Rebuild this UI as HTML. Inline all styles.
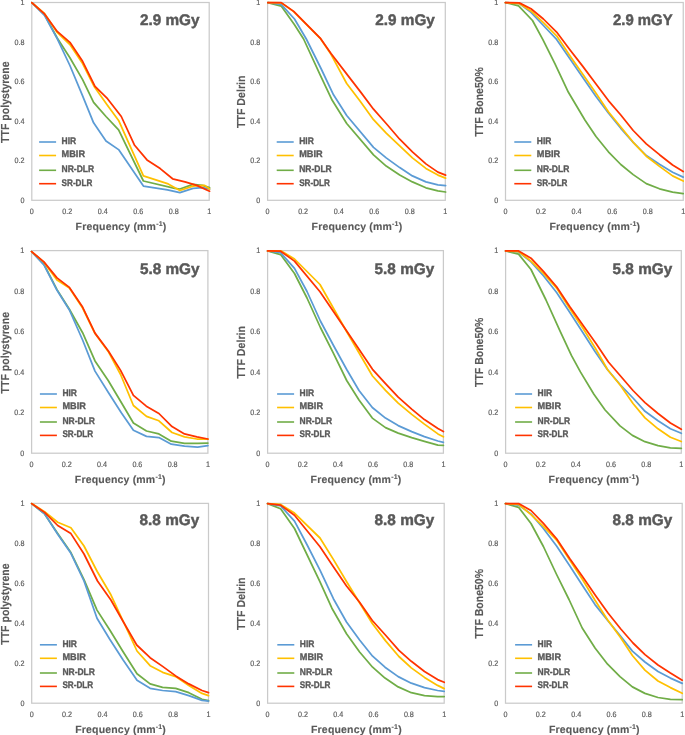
<!DOCTYPE html><html><head><meta charset="utf-8"><style>html,body{margin:0;padding:0;background:#fff;overflow:hidden;}svg{display:block;will-change:transform;}text{font-family:"Liberation Sans",sans-serif;text-rendering:geometricPrecision;}</style></head><body>
<svg width="685" height="735" viewBox="0 0 685 735">
<rect width="685" height="735" fill="#fff"/>
<g><rect x="31.80" y="2.50" width="177.40" height="197.80" fill="none" stroke="#CACACA" stroke-width="1.25"/><text x="24.50" y="203.05" font-size="7.9" fill="#595959" stroke="#595959" stroke-width="0.18" text-anchor="end" textLength="4.0" lengthAdjust="spacingAndGlyphs">0</text><text x="24.50" y="163.49" font-size="7.9" fill="#595959" stroke="#595959" stroke-width="0.18" text-anchor="end" textLength="10.0" lengthAdjust="spacingAndGlyphs">0.2</text><text x="24.50" y="123.93" font-size="7.9" fill="#595959" stroke="#595959" stroke-width="0.18" text-anchor="end" textLength="10.0" lengthAdjust="spacingAndGlyphs">0.4</text><text x="24.50" y="84.37" font-size="7.9" fill="#595959" stroke="#595959" stroke-width="0.18" text-anchor="end" textLength="10.0" lengthAdjust="spacingAndGlyphs">0.6</text><text x="24.50" y="44.81" font-size="7.9" fill="#595959" stroke="#595959" stroke-width="0.18" text-anchor="end" textLength="10.0" lengthAdjust="spacingAndGlyphs">0.8</text><text x="24.50" y="5.25" font-size="7.9" fill="#595959" stroke="#595959" stroke-width="0.18" text-anchor="end" textLength="4.0" lengthAdjust="spacingAndGlyphs">1</text><text x="31.80" y="213.80" font-size="7.9" fill="#595959" stroke="#595959" stroke-width="0.18" text-anchor="middle" textLength="4.0" lengthAdjust="spacingAndGlyphs">0</text><text x="67.28" y="213.80" font-size="7.9" fill="#595959" stroke="#595959" stroke-width="0.18" text-anchor="middle" textLength="10.0" lengthAdjust="spacingAndGlyphs">0.2</text><text x="102.76" y="213.80" font-size="7.9" fill="#595959" stroke="#595959" stroke-width="0.18" text-anchor="middle" textLength="10.0" lengthAdjust="spacingAndGlyphs">0.4</text><text x="138.24" y="213.80" font-size="7.9" fill="#595959" stroke="#595959" stroke-width="0.18" text-anchor="middle" textLength="10.0" lengthAdjust="spacingAndGlyphs">0.6</text><text x="173.72" y="213.80" font-size="7.9" fill="#595959" stroke="#595959" stroke-width="0.18" text-anchor="middle" textLength="10.0" lengthAdjust="spacingAndGlyphs">0.8</text><text x="209.20" y="213.80" font-size="7.9" fill="#595959" stroke="#595959" stroke-width="0.18" text-anchor="middle" textLength="4.0" lengthAdjust="spacingAndGlyphs">1</text><text x="75.60" y="229.80" font-size="10.5" font-weight="bold" fill="#595959" stroke="#595959" stroke-width="0.12" letter-spacing="0.18">Frequency (mm<tspan font-size="7" dy="-4">-1</tspan><tspan dy="4">)</tspan></text><text transform="translate(9.40,102.20) rotate(-90)" x="0" y="0" font-size="11.6" font-weight="bold" fill="#595959" stroke="#595959" stroke-width="0.15" text-anchor="middle" textLength="81.4" lengthAdjust="spacingAndGlyphs">TTF polystyrene</text><text x="139.90" y="24.80" font-size="15.3" font-weight="bold" fill="#595959" stroke="#595959" stroke-width="0.45" textLength="59.6" lengthAdjust="spacingAndGlyphs">2.9 mGy</text><line x1="39.10" y1="142.00" x2="56.10" y2="142.00" stroke="#5B9BD5" stroke-width="1.6"/><text x="61.60" y="143.90" font-size="9.5" font-weight="bold" fill="#595959" stroke="#595959" stroke-width="0.35" textLength="14.6" lengthAdjust="spacingAndGlyphs">HIR</text><line x1="39.10" y1="155.50" x2="56.10" y2="155.50" stroke="#FFC000" stroke-width="1.6"/><text x="61.60" y="157.40" font-size="9.5" font-weight="bold" fill="#595959" stroke="#595959" stroke-width="0.35" textLength="23.4" lengthAdjust="spacingAndGlyphs">MBIR</text><line x1="39.10" y1="170.30" x2="56.10" y2="170.30" stroke="#70AD47" stroke-width="1.6"/><text x="61.60" y="172.20" font-size="9.5" font-weight="bold" fill="#595959" stroke="#595959" stroke-width="0.35" textLength="32.5" lengthAdjust="spacingAndGlyphs">NR-DLR</text><line x1="39.10" y1="183.70" x2="56.10" y2="183.70" stroke="#FF3300" stroke-width="1.6"/><text x="61.60" y="185.60" font-size="9.5" font-weight="bold" fill="#595959" stroke="#595959" stroke-width="0.35" textLength="30.7" lengthAdjust="spacingAndGlyphs">SR-DLR</text><polyline points="31.8,2.6 44.5,14.6 57.2,38.0 69.9,57.7 82.6,79.6 93.6,102.3 106.0,116.5 118.6,129.9 143.4,181.0 174.8,188.3 179.9,189.0 193.0,184.4 202.5,185.4 209.6,187.6" fill="none" stroke="#70AD47" stroke-width="1.75" stroke-linejoin="round" stroke-linecap="round"/><polyline points="31.8,2.6 44.5,15.3 57.2,38.7 69.9,65.5 82.6,95.8 93.6,122.8 106.0,141.0 118.6,149.6 143.4,186.1 167.5,189.8 179.9,192.7 193.0,188.3 202.5,187.6 209.6,189.0" fill="none" stroke="#5B9BD5" stroke-width="1.75" stroke-linejoin="round" stroke-linecap="round"/><polyline points="31.8,2.6 44.5,13.5 57.2,32.4 69.9,44.5 82.6,63.5 94.5,87.0 106.5,104.0 118.6,120.4 143.4,175.9 168.2,183.9 179.9,190.5 193.0,186.1 204.7,185.4 209.6,189.0" fill="none" stroke="#FFC000" stroke-width="1.75" stroke-linejoin="round" stroke-linecap="round"/><polyline points="31.8,2.6 44.5,13.9 57.2,31.4 69.9,42.3 82.6,61.3 95.0,86.3 107.5,98.7 121.3,116.5 134.6,145.3 147.0,159.9 160.2,168.6 172.6,178.8 185.0,181.8 196.7,185.4 209.6,191.2" fill="none" stroke="#FF3300" stroke-width="1.75" stroke-linejoin="round" stroke-linecap="round"/></g>
<g><rect x="267.60" y="2.50" width="177.70" height="197.80" fill="none" stroke="#CACACA" stroke-width="1.25"/><text x="260.30" y="203.05" font-size="7.9" fill="#595959" stroke="#595959" stroke-width="0.18" text-anchor="end" textLength="4.0" lengthAdjust="spacingAndGlyphs">0</text><text x="260.30" y="163.49" font-size="7.9" fill="#595959" stroke="#595959" stroke-width="0.18" text-anchor="end" textLength="10.0" lengthAdjust="spacingAndGlyphs">0.2</text><text x="260.30" y="123.93" font-size="7.9" fill="#595959" stroke="#595959" stroke-width="0.18" text-anchor="end" textLength="10.0" lengthAdjust="spacingAndGlyphs">0.4</text><text x="260.30" y="84.37" font-size="7.9" fill="#595959" stroke="#595959" stroke-width="0.18" text-anchor="end" textLength="10.0" lengthAdjust="spacingAndGlyphs">0.6</text><text x="260.30" y="44.81" font-size="7.9" fill="#595959" stroke="#595959" stroke-width="0.18" text-anchor="end" textLength="10.0" lengthAdjust="spacingAndGlyphs">0.8</text><text x="260.30" y="5.25" font-size="7.9" fill="#595959" stroke="#595959" stroke-width="0.18" text-anchor="end" textLength="4.0" lengthAdjust="spacingAndGlyphs">1</text><text x="267.60" y="213.80" font-size="7.9" fill="#595959" stroke="#595959" stroke-width="0.18" text-anchor="middle" textLength="4.0" lengthAdjust="spacingAndGlyphs">0</text><text x="303.14" y="213.80" font-size="7.9" fill="#595959" stroke="#595959" stroke-width="0.18" text-anchor="middle" textLength="10.0" lengthAdjust="spacingAndGlyphs">0.2</text><text x="338.68" y="213.80" font-size="7.9" fill="#595959" stroke="#595959" stroke-width="0.18" text-anchor="middle" textLength="10.0" lengthAdjust="spacingAndGlyphs">0.4</text><text x="374.22" y="213.80" font-size="7.9" fill="#595959" stroke="#595959" stroke-width="0.18" text-anchor="middle" textLength="10.0" lengthAdjust="spacingAndGlyphs">0.6</text><text x="409.76" y="213.80" font-size="7.9" fill="#595959" stroke="#595959" stroke-width="0.18" text-anchor="middle" textLength="10.0" lengthAdjust="spacingAndGlyphs">0.8</text><text x="445.30" y="213.80" font-size="7.9" fill="#595959" stroke="#595959" stroke-width="0.18" text-anchor="middle" textLength="4.0" lengthAdjust="spacingAndGlyphs">1</text><text x="311.55" y="229.80" font-size="10.5" font-weight="bold" fill="#595959" stroke="#595959" stroke-width="0.12" letter-spacing="0.18">Frequency (mm<tspan font-size="7" dy="-4">-1</tspan><tspan dy="4">)</tspan></text><text transform="translate(245.20,101.80) rotate(-90)" x="0" y="0" font-size="11.6" font-weight="bold" fill="#595959" stroke="#595959" stroke-width="0.15" text-anchor="middle" textLength="52.6" lengthAdjust="spacingAndGlyphs">TTF Delrin</text><text x="375.30" y="25.10" font-size="15.3" font-weight="bold" fill="#595959" stroke="#595959" stroke-width="0.45" textLength="59.6" lengthAdjust="spacingAndGlyphs">2.9 mGy</text><line x1="276.70" y1="142.00" x2="293.70" y2="142.00" stroke="#5B9BD5" stroke-width="1.6"/><text x="299.20" y="143.90" font-size="9.5" font-weight="bold" fill="#595959" stroke="#595959" stroke-width="0.35" textLength="14.6" lengthAdjust="spacingAndGlyphs">HIR</text><line x1="276.70" y1="155.50" x2="293.70" y2="155.50" stroke="#FFC000" stroke-width="1.6"/><text x="299.20" y="157.40" font-size="9.5" font-weight="bold" fill="#595959" stroke="#595959" stroke-width="0.35" textLength="23.4" lengthAdjust="spacingAndGlyphs">MBIR</text><line x1="276.70" y1="170.30" x2="293.70" y2="170.30" stroke="#70AD47" stroke-width="1.6"/><text x="299.20" y="172.20" font-size="9.5" font-weight="bold" fill="#595959" stroke="#595959" stroke-width="0.35" textLength="32.5" lengthAdjust="spacingAndGlyphs">NR-DLR</text><line x1="276.70" y1="183.70" x2="293.70" y2="183.70" stroke="#FF3300" stroke-width="1.6"/><text x="299.20" y="185.60" font-size="9.5" font-weight="bold" fill="#595959" stroke="#595959" stroke-width="0.35" textLength="30.7" lengthAdjust="spacingAndGlyphs">SR-DLR</text><polyline points="267.8,2.6 281.2,6.1 294.5,24.8 303.6,39.0 319.9,74.4 332.2,100.3 346.7,123.5 373.5,154.9 386.2,166.1 399.7,175.1 412.4,181.9 425.9,187.8 437.9,190.8 445.6,192.0" fill="none" stroke="#70AD47" stroke-width="1.75" stroke-linejoin="round" stroke-linecap="round"/><polyline points="267.8,2.6 281.2,4.4 294.5,19.0 306.3,39.0 321.0,68.5 333.5,94.8 346.7,115.5 373.5,147.4 386.2,157.9 399.7,167.6 412.4,175.9 425.9,181.9 437.9,184.8 445.6,185.6" fill="none" stroke="#5B9BD5" stroke-width="1.75" stroke-linejoin="round" stroke-linecap="round"/><polyline points="267.8,2.6 281.2,2.8 293.7,11.6 320.7,38.9 331.0,54.3 346.7,83.5 360.0,101.0 373.5,119.7 386.2,133.2 399.7,145.9 412.4,157.9 425.9,168.4 437.9,175.1 445.6,178.1" fill="none" stroke="#FFC000" stroke-width="1.75" stroke-linejoin="round" stroke-linecap="round"/><polyline points="267.8,2.6 281.2,2.6 293.7,11.4 320.7,38.7 331.0,53.5 347.0,74.4 360.7,92.1 373.5,109.2 386.2,123.5 399.7,139.2 412.4,151.9 425.9,163.9 437.9,172.1 445.6,175.1" fill="none" stroke="#FF3300" stroke-width="1.75" stroke-linejoin="round" stroke-linecap="round"/></g>
<g><rect x="505.50" y="2.50" width="177.75" height="197.80" fill="none" stroke="#CACACA" stroke-width="1.25"/><text x="498.20" y="203.05" font-size="7.9" fill="#595959" stroke="#595959" stroke-width="0.18" text-anchor="end" textLength="4.0" lengthAdjust="spacingAndGlyphs">0</text><text x="498.20" y="163.49" font-size="7.9" fill="#595959" stroke="#595959" stroke-width="0.18" text-anchor="end" textLength="10.0" lengthAdjust="spacingAndGlyphs">0.2</text><text x="498.20" y="123.93" font-size="7.9" fill="#595959" stroke="#595959" stroke-width="0.18" text-anchor="end" textLength="10.0" lengthAdjust="spacingAndGlyphs">0.4</text><text x="498.20" y="84.37" font-size="7.9" fill="#595959" stroke="#595959" stroke-width="0.18" text-anchor="end" textLength="10.0" lengthAdjust="spacingAndGlyphs">0.6</text><text x="498.20" y="44.81" font-size="7.9" fill="#595959" stroke="#595959" stroke-width="0.18" text-anchor="end" textLength="10.0" lengthAdjust="spacingAndGlyphs">0.8</text><text x="498.20" y="5.25" font-size="7.9" fill="#595959" stroke="#595959" stroke-width="0.18" text-anchor="end" textLength="4.0" lengthAdjust="spacingAndGlyphs">1</text><text x="505.50" y="213.80" font-size="7.9" fill="#595959" stroke="#595959" stroke-width="0.18" text-anchor="middle" textLength="4.0" lengthAdjust="spacingAndGlyphs">0</text><text x="541.05" y="213.80" font-size="7.9" fill="#595959" stroke="#595959" stroke-width="0.18" text-anchor="middle" textLength="10.0" lengthAdjust="spacingAndGlyphs">0.2</text><text x="576.60" y="213.80" font-size="7.9" fill="#595959" stroke="#595959" stroke-width="0.18" text-anchor="middle" textLength="10.0" lengthAdjust="spacingAndGlyphs">0.4</text><text x="612.15" y="213.80" font-size="7.9" fill="#595959" stroke="#595959" stroke-width="0.18" text-anchor="middle" textLength="10.0" lengthAdjust="spacingAndGlyphs">0.6</text><text x="647.70" y="213.80" font-size="7.9" fill="#595959" stroke="#595959" stroke-width="0.18" text-anchor="middle" textLength="10.0" lengthAdjust="spacingAndGlyphs">0.8</text><text x="683.25" y="213.80" font-size="7.9" fill="#595959" stroke="#595959" stroke-width="0.18" text-anchor="middle" textLength="4.0" lengthAdjust="spacingAndGlyphs">1</text><text x="549.48" y="229.80" font-size="10.5" font-weight="bold" fill="#595959" stroke="#595959" stroke-width="0.12" letter-spacing="0.18">Frequency (mm<tspan font-size="7" dy="-4">-1</tspan><tspan dy="4">)</tspan></text><text transform="translate(483.10,101.80) rotate(-90)" x="0" y="0" font-size="11.6" font-weight="bold" fill="#595959" stroke="#595959" stroke-width="0.15" text-anchor="middle" textLength="69.4" lengthAdjust="spacingAndGlyphs">TTF Bone50%</text><text x="613.00" y="25.00" font-size="15.3" font-weight="bold" fill="#595959" stroke="#595959" stroke-width="0.45" textLength="59.6" lengthAdjust="spacingAndGlyphs">2.9 mGY</text><line x1="514.30" y1="142.00" x2="531.30" y2="142.00" stroke="#5B9BD5" stroke-width="1.6"/><text x="536.80" y="143.90" font-size="9.5" font-weight="bold" fill="#595959" stroke="#595959" stroke-width="0.35" textLength="14.6" lengthAdjust="spacingAndGlyphs">HIR</text><line x1="514.30" y1="155.50" x2="531.30" y2="155.50" stroke="#FFC000" stroke-width="1.6"/><text x="536.80" y="157.40" font-size="9.5" font-weight="bold" fill="#595959" stroke="#595959" stroke-width="0.35" textLength="23.4" lengthAdjust="spacingAndGlyphs">MBIR</text><line x1="514.30" y1="170.30" x2="531.30" y2="170.30" stroke="#70AD47" stroke-width="1.6"/><text x="536.80" y="172.20" font-size="9.5" font-weight="bold" fill="#595959" stroke="#595959" stroke-width="0.35" textLength="32.5" lengthAdjust="spacingAndGlyphs">NR-DLR</text><line x1="514.30" y1="183.70" x2="531.30" y2="183.70" stroke="#FF3300" stroke-width="1.6"/><text x="536.80" y="185.60" font-size="9.5" font-weight="bold" fill="#595959" stroke="#595959" stroke-width="0.35" textLength="30.7" lengthAdjust="spacingAndGlyphs">SR-DLR</text><polyline points="505.5,2.6 518.6,5.8 532.5,20.5 543.0,39.9 555.0,63.9 568.4,92.3 584.9,120.0 596.0,136.5 608.4,151.8 620.8,164.5 633.2,174.6 646.3,183.6 659.5,188.8 672.6,192.2 683.2,193.6" fill="none" stroke="#70AD47" stroke-width="1.75" stroke-linejoin="round" stroke-linecap="round"/><polyline points="505.4,2.6 519.3,3.6 531.0,12.4 543.4,25.5 556.6,39.4 569.7,58.4 582.8,77.4 596.0,96.5 608.4,113.0 620.8,128.3 633.2,142.3 646.3,155.5 659.5,164.2 672.6,172.3 683.2,177.1" fill="none" stroke="#5B9BD5" stroke-width="1.75" stroke-linejoin="round" stroke-linecap="round"/><polyline points="505.4,2.6 519.3,3.6 531.0,10.9 543.4,22.6 556.6,35.8 569.7,55.5 582.8,74.3 596.0,93.2 608.4,111.8 620.8,127.0 633.2,142.3 646.3,156.2 659.5,166.4 672.6,175.9 683.2,181.0" fill="none" stroke="#FFC000" stroke-width="1.75" stroke-linejoin="round" stroke-linecap="round"/><polyline points="505.4,2.6 519.3,2.9 531.0,8.8 543.4,19.0 556.6,32.1 569.7,49.6 582.8,66.4 596.0,84.0 608.4,100.6 620.8,115.0 633.2,130.5 646.3,143.8 659.5,154.7 672.6,165.0 683.2,171.5" fill="none" stroke="#FF3300" stroke-width="1.75" stroke-linejoin="round" stroke-linecap="round"/></g>
<g><rect x="31.60" y="250.60" width="176.30" height="202.60" fill="none" stroke="#CACACA" stroke-width="1.25"/><text x="24.30" y="455.95" font-size="7.9" fill="#595959" stroke="#595959" stroke-width="0.18" text-anchor="end" textLength="4.0" lengthAdjust="spacingAndGlyphs">0</text><text x="24.30" y="415.43" font-size="7.9" fill="#595959" stroke="#595959" stroke-width="0.18" text-anchor="end" textLength="10.0" lengthAdjust="spacingAndGlyphs">0.2</text><text x="24.30" y="374.91" font-size="7.9" fill="#595959" stroke="#595959" stroke-width="0.18" text-anchor="end" textLength="10.0" lengthAdjust="spacingAndGlyphs">0.4</text><text x="24.30" y="334.39" font-size="7.9" fill="#595959" stroke="#595959" stroke-width="0.18" text-anchor="end" textLength="10.0" lengthAdjust="spacingAndGlyphs">0.6</text><text x="24.30" y="293.87" font-size="7.9" fill="#595959" stroke="#595959" stroke-width="0.18" text-anchor="end" textLength="10.0" lengthAdjust="spacingAndGlyphs">0.8</text><text x="24.30" y="253.35" font-size="7.9" fill="#595959" stroke="#595959" stroke-width="0.18" text-anchor="end" textLength="4.0" lengthAdjust="spacingAndGlyphs">1</text><text x="31.60" y="466.70" font-size="7.9" fill="#595959" stroke="#595959" stroke-width="0.18" text-anchor="middle" textLength="4.0" lengthAdjust="spacingAndGlyphs">0</text><text x="66.86" y="466.70" font-size="7.9" fill="#595959" stroke="#595959" stroke-width="0.18" text-anchor="middle" textLength="10.0" lengthAdjust="spacingAndGlyphs">0.2</text><text x="102.12" y="466.70" font-size="7.9" fill="#595959" stroke="#595959" stroke-width="0.18" text-anchor="middle" textLength="10.0" lengthAdjust="spacingAndGlyphs">0.4</text><text x="137.38" y="466.70" font-size="7.9" fill="#595959" stroke="#595959" stroke-width="0.18" text-anchor="middle" textLength="10.0" lengthAdjust="spacingAndGlyphs">0.6</text><text x="172.64" y="466.70" font-size="7.9" fill="#595959" stroke="#595959" stroke-width="0.18" text-anchor="middle" textLength="10.0" lengthAdjust="spacingAndGlyphs">0.8</text><text x="207.90" y="466.70" font-size="7.9" fill="#595959" stroke="#595959" stroke-width="0.18" text-anchor="middle" textLength="4.0" lengthAdjust="spacingAndGlyphs">1</text><text x="74.85" y="482.70" font-size="10.5" font-weight="bold" fill="#595959" stroke="#595959" stroke-width="0.12" letter-spacing="0.18">Frequency (mm<tspan font-size="7" dy="-4">-1</tspan><tspan dy="4">)</tspan></text><text transform="translate(9.20,352.70) rotate(-90)" x="0" y="0" font-size="11.6" font-weight="bold" fill="#595959" stroke="#595959" stroke-width="0.15" text-anchor="middle" textLength="81.4" lengthAdjust="spacingAndGlyphs">TTF polystyrene</text><text x="139.90" y="273.50" font-size="15.3" font-weight="bold" fill="#595959" stroke="#595959" stroke-width="0.45" textLength="59.6" lengthAdjust="spacingAndGlyphs">5.8 mGy</text><line x1="39.90" y1="394.00" x2="56.90" y2="394.00" stroke="#5B9BD5" stroke-width="1.6"/><text x="62.40" y="395.90" font-size="9.5" font-weight="bold" fill="#595959" stroke="#595959" stroke-width="0.35" textLength="14.6" lengthAdjust="spacingAndGlyphs">HIR</text><line x1="39.90" y1="407.50" x2="56.90" y2="407.50" stroke="#FFC000" stroke-width="1.6"/><text x="62.40" y="409.40" font-size="9.5" font-weight="bold" fill="#595959" stroke="#595959" stroke-width="0.35" textLength="23.4" lengthAdjust="spacingAndGlyphs">MBIR</text><line x1="39.90" y1="422.00" x2="56.90" y2="422.00" stroke="#70AD47" stroke-width="1.6"/><text x="62.40" y="423.90" font-size="9.5" font-weight="bold" fill="#595959" stroke="#595959" stroke-width="0.35" textLength="32.5" lengthAdjust="spacingAndGlyphs">NR-DLR</text><line x1="39.90" y1="435.40" x2="56.90" y2="435.40" stroke="#FF3300" stroke-width="1.6"/><text x="62.40" y="437.30" font-size="9.5" font-weight="bold" fill="#595959" stroke="#595959" stroke-width="0.35" textLength="30.7" lengthAdjust="spacingAndGlyphs">SR-DLR</text><polyline points="31.6,251.6 43.9,264.1 57.0,289.6 69.4,309.3 82.6,332.7 95.0,360.9 108.2,380.5 121.3,402.5 133.4,423.0 146.5,431.0 158.9,433.9 171.3,441.2 184.5,443.4 197.6,443.4 207.9,443.1" fill="none" stroke="#70AD47" stroke-width="1.75" stroke-linejoin="round" stroke-linecap="round"/><polyline points="31.6,251.6 43.9,264.8 57.0,290.3 69.4,310.0 82.6,340.0 95.0,371.1 108.2,392.3 121.3,412.8 133.4,430.3 146.5,436.4 158.9,437.6 171.3,444.2 184.5,446.1 197.6,447.1 207.9,445.6" fill="none" stroke="#5B9BD5" stroke-width="1.75" stroke-linejoin="round" stroke-linecap="round"/><polyline points="31.6,251.6 43.9,262.2 57.0,280.1 69.4,288.0 82.6,308.0 95.0,333.5 108.2,351.4 120.6,374.5 133.4,405.5 146.5,416.4 158.9,420.8 172.0,432.5 184.5,436.9 196.9,439.0 207.9,439.0" fill="none" stroke="#FFC000" stroke-width="1.75" stroke-linejoin="round" stroke-linecap="round"/><polyline points="31.6,251.6 43.9,261.9 57.0,277.9 69.4,287.4 82.6,307.1 95.0,333.1 108.2,350.7 120.6,370.4 133.4,395.3 146.3,406.2 158.9,413.5 172.0,426.6 184.5,433.9 196.9,436.9 207.9,439.0" fill="none" stroke="#FF3300" stroke-width="1.75" stroke-linejoin="round" stroke-linecap="round"/></g>
<g><rect x="267.60" y="250.60" width="175.80" height="202.60" fill="none" stroke="#CACACA" stroke-width="1.25"/><text x="260.30" y="455.95" font-size="7.9" fill="#595959" stroke="#595959" stroke-width="0.18" text-anchor="end" textLength="4.0" lengthAdjust="spacingAndGlyphs">0</text><text x="260.30" y="415.43" font-size="7.9" fill="#595959" stroke="#595959" stroke-width="0.18" text-anchor="end" textLength="10.0" lengthAdjust="spacingAndGlyphs">0.2</text><text x="260.30" y="374.91" font-size="7.9" fill="#595959" stroke="#595959" stroke-width="0.18" text-anchor="end" textLength="10.0" lengthAdjust="spacingAndGlyphs">0.4</text><text x="260.30" y="334.39" font-size="7.9" fill="#595959" stroke="#595959" stroke-width="0.18" text-anchor="end" textLength="10.0" lengthAdjust="spacingAndGlyphs">0.6</text><text x="260.30" y="293.87" font-size="7.9" fill="#595959" stroke="#595959" stroke-width="0.18" text-anchor="end" textLength="10.0" lengthAdjust="spacingAndGlyphs">0.8</text><text x="260.30" y="253.35" font-size="7.9" fill="#595959" stroke="#595959" stroke-width="0.18" text-anchor="end" textLength="4.0" lengthAdjust="spacingAndGlyphs">1</text><text x="267.60" y="466.70" font-size="7.9" fill="#595959" stroke="#595959" stroke-width="0.18" text-anchor="middle" textLength="4.0" lengthAdjust="spacingAndGlyphs">0</text><text x="302.76" y="466.70" font-size="7.9" fill="#595959" stroke="#595959" stroke-width="0.18" text-anchor="middle" textLength="10.0" lengthAdjust="spacingAndGlyphs">0.2</text><text x="337.92" y="466.70" font-size="7.9" fill="#595959" stroke="#595959" stroke-width="0.18" text-anchor="middle" textLength="10.0" lengthAdjust="spacingAndGlyphs">0.4</text><text x="373.08" y="466.70" font-size="7.9" fill="#595959" stroke="#595959" stroke-width="0.18" text-anchor="middle" textLength="10.0" lengthAdjust="spacingAndGlyphs">0.6</text><text x="408.24" y="466.70" font-size="7.9" fill="#595959" stroke="#595959" stroke-width="0.18" text-anchor="middle" textLength="10.0" lengthAdjust="spacingAndGlyphs">0.8</text><text x="443.40" y="466.70" font-size="7.9" fill="#595959" stroke="#595959" stroke-width="0.18" text-anchor="middle" textLength="4.0" lengthAdjust="spacingAndGlyphs">1</text><text x="310.60" y="482.70" font-size="10.5" font-weight="bold" fill="#595959" stroke="#595959" stroke-width="0.12" letter-spacing="0.18">Frequency (mm<tspan font-size="7" dy="-4">-1</tspan><tspan dy="4">)</tspan></text><text transform="translate(245.20,352.30) rotate(-90)" x="0" y="0" font-size="11.6" font-weight="bold" fill="#595959" stroke="#595959" stroke-width="0.15" text-anchor="middle" textLength="52.6" lengthAdjust="spacingAndGlyphs">TTF Delrin</text><text x="374.60" y="273.50" font-size="15.3" font-weight="bold" fill="#595959" stroke="#595959" stroke-width="0.45" textLength="59.6" lengthAdjust="spacingAndGlyphs">5.8 mGy</text><line x1="277.10" y1="394.00" x2="294.10" y2="394.00" stroke="#5B9BD5" stroke-width="1.6"/><text x="299.60" y="395.90" font-size="9.5" font-weight="bold" fill="#595959" stroke="#595959" stroke-width="0.35" textLength="14.6" lengthAdjust="spacingAndGlyphs">HIR</text><line x1="277.10" y1="407.50" x2="294.10" y2="407.50" stroke="#FFC000" stroke-width="1.6"/><text x="299.60" y="409.40" font-size="9.5" font-weight="bold" fill="#595959" stroke="#595959" stroke-width="0.35" textLength="23.4" lengthAdjust="spacingAndGlyphs">MBIR</text><line x1="277.10" y1="422.00" x2="294.10" y2="422.00" stroke="#70AD47" stroke-width="1.6"/><text x="299.60" y="423.90" font-size="9.5" font-weight="bold" fill="#595959" stroke="#595959" stroke-width="0.35" textLength="32.5" lengthAdjust="spacingAndGlyphs">NR-DLR</text><line x1="277.10" y1="435.40" x2="294.10" y2="435.40" stroke="#FF3300" stroke-width="1.6"/><text x="299.60" y="437.30" font-size="9.5" font-weight="bold" fill="#595959" stroke="#595959" stroke-width="0.35" textLength="30.7" lengthAdjust="spacingAndGlyphs">SR-DLR</text><polyline points="267.6,251.0 280.6,254.6 294.5,273.5 307.0,298.0 320.4,327.5 333.1,352.7 346.7,380.5 359.0,400.0 372.3,418.1 385.5,427.6 398.2,433.1 411.7,437.6 424.4,441.3 437.9,445.1 443.4,445.4" fill="none" stroke="#70AD47" stroke-width="1.75" stroke-linejoin="round" stroke-linecap="round"/><polyline points="267.6,251.0 280.6,252.7 294.5,268.4 307.0,291.5 320.4,321.0 333.5,345.5 346.7,369.5 359.0,390.5 372.3,407.5 385.5,418.1 398.2,425.6 411.7,431.6 424.4,436.6 437.9,441.0 443.4,442.3" fill="none" stroke="#5B9BD5" stroke-width="1.75" stroke-linejoin="round" stroke-linecap="round"/><polyline points="267.6,250.9 281.3,250.9 294.5,259.0 320.0,284.5 346.0,330.5 372.5,376.0 385.5,390.4 398.2,403.2 411.7,414.4 424.4,424.1 437.9,433.9 443.4,436.8" fill="none" stroke="#FFC000" stroke-width="1.75" stroke-linejoin="round" stroke-linecap="round"/><polyline points="267.6,250.9 280.6,251.2 294.5,261.1 320.0,291.8 346.0,330.0 372.5,369.3 385.5,383.7 398.2,397.2 411.7,409.1 424.4,419.6 437.9,428.6 443.4,431.5" fill="none" stroke="#FF3300" stroke-width="1.75" stroke-linejoin="round" stroke-linecap="round"/></g>
<g><rect x="505.60" y="250.60" width="175.70" height="202.60" fill="none" stroke="#CACACA" stroke-width="1.25"/><text x="498.30" y="455.95" font-size="7.9" fill="#595959" stroke="#595959" stroke-width="0.18" text-anchor="end" textLength="4.0" lengthAdjust="spacingAndGlyphs">0</text><text x="498.30" y="415.43" font-size="7.9" fill="#595959" stroke="#595959" stroke-width="0.18" text-anchor="end" textLength="10.0" lengthAdjust="spacingAndGlyphs">0.2</text><text x="498.30" y="374.91" font-size="7.9" fill="#595959" stroke="#595959" stroke-width="0.18" text-anchor="end" textLength="10.0" lengthAdjust="spacingAndGlyphs">0.4</text><text x="498.30" y="334.39" font-size="7.9" fill="#595959" stroke="#595959" stroke-width="0.18" text-anchor="end" textLength="10.0" lengthAdjust="spacingAndGlyphs">0.6</text><text x="498.30" y="293.87" font-size="7.9" fill="#595959" stroke="#595959" stroke-width="0.18" text-anchor="end" textLength="10.0" lengthAdjust="spacingAndGlyphs">0.8</text><text x="498.30" y="253.35" font-size="7.9" fill="#595959" stroke="#595959" stroke-width="0.18" text-anchor="end" textLength="4.0" lengthAdjust="spacingAndGlyphs">1</text><text x="505.60" y="466.70" font-size="7.9" fill="#595959" stroke="#595959" stroke-width="0.18" text-anchor="middle" textLength="4.0" lengthAdjust="spacingAndGlyphs">0</text><text x="540.74" y="466.70" font-size="7.9" fill="#595959" stroke="#595959" stroke-width="0.18" text-anchor="middle" textLength="10.0" lengthAdjust="spacingAndGlyphs">0.2</text><text x="575.88" y="466.70" font-size="7.9" fill="#595959" stroke="#595959" stroke-width="0.18" text-anchor="middle" textLength="10.0" lengthAdjust="spacingAndGlyphs">0.4</text><text x="611.02" y="466.70" font-size="7.9" fill="#595959" stroke="#595959" stroke-width="0.18" text-anchor="middle" textLength="10.0" lengthAdjust="spacingAndGlyphs">0.6</text><text x="646.16" y="466.70" font-size="7.9" fill="#595959" stroke="#595959" stroke-width="0.18" text-anchor="middle" textLength="10.0" lengthAdjust="spacingAndGlyphs">0.8</text><text x="681.30" y="466.70" font-size="7.9" fill="#595959" stroke="#595959" stroke-width="0.18" text-anchor="middle" textLength="4.0" lengthAdjust="spacingAndGlyphs">1</text><text x="548.55" y="482.70" font-size="10.5" font-weight="bold" fill="#595959" stroke="#595959" stroke-width="0.12" letter-spacing="0.18">Frequency (mm<tspan font-size="7" dy="-4">-1</tspan><tspan dy="4">)</tspan></text><text transform="translate(483.20,352.30) rotate(-90)" x="0" y="0" font-size="11.6" font-weight="bold" fill="#595959" stroke="#595959" stroke-width="0.15" text-anchor="middle" textLength="69.4" lengthAdjust="spacingAndGlyphs">TTF Bone50%</text><text x="612.60" y="273.50" font-size="15.3" font-weight="bold" fill="#595959" stroke="#595959" stroke-width="0.45" textLength="59.6" lengthAdjust="spacingAndGlyphs">5.8 mGy</text><line x1="515.10" y1="394.00" x2="532.10" y2="394.00" stroke="#5B9BD5" stroke-width="1.6"/><text x="537.60" y="395.90" font-size="9.5" font-weight="bold" fill="#595959" stroke="#595959" stroke-width="0.35" textLength="14.6" lengthAdjust="spacingAndGlyphs">HIR</text><line x1="515.10" y1="407.50" x2="532.10" y2="407.50" stroke="#FFC000" stroke-width="1.6"/><text x="537.60" y="409.40" font-size="9.5" font-weight="bold" fill="#595959" stroke="#595959" stroke-width="0.35" textLength="23.4" lengthAdjust="spacingAndGlyphs">MBIR</text><line x1="515.10" y1="422.00" x2="532.10" y2="422.00" stroke="#70AD47" stroke-width="1.6"/><text x="537.60" y="423.90" font-size="9.5" font-weight="bold" fill="#595959" stroke="#595959" stroke-width="0.35" textLength="32.5" lengthAdjust="spacingAndGlyphs">NR-DLR</text><line x1="515.10" y1="435.40" x2="532.10" y2="435.40" stroke="#FF3300" stroke-width="1.6"/><text x="537.60" y="437.30" font-size="9.5" font-weight="bold" fill="#595959" stroke="#595959" stroke-width="0.35" textLength="30.7" lengthAdjust="spacingAndGlyphs">SR-DLR</text><polyline points="505.6,250.9 518.6,254.1 531.0,269.5 546.0,300.0 559.5,329.9 571.4,355.4 580.4,371.9 593.9,394.3 605.1,410.0 620.0,425.9 632.4,435.4 644.9,441.7 658.0,445.6 670.4,447.8 681.3,448.4" fill="none" stroke="#70AD47" stroke-width="1.75" stroke-linejoin="round" stroke-linecap="round"/><polyline points="505.6,250.9 518.6,252.0 531.0,261.9 543.4,275.7 556.6,292.5 569.7,312.2 582.8,332.5 595.0,351.5 607.0,369.0 620.5,385.0 633.0,398.0 645.0,411.3 658.0,420.8 670.4,428.8 681.3,433.3" fill="none" stroke="#5B9BD5" stroke-width="1.75" stroke-linejoin="round" stroke-linecap="round"/><polyline points="505.6,250.9 518.6,251.6 531.0,261.1 543.4,273.5 556.6,288.1 569.7,308.6 582.8,328.0 595.5,348.5 607.8,370.0 620.5,385.5 633.0,403.5 645.0,417.9 658.0,428.8 670.4,437.3 681.3,441.5" fill="none" stroke="#FFC000" stroke-width="1.75" stroke-linejoin="round" stroke-linecap="round"/><polyline points="505.6,250.9 518.6,250.9 531.0,258.2 543.4,271.4 556.6,286.7 569.7,306.4 582.8,325.0 596.0,343.5 608.4,362.0 620.5,376.0 633.0,390.5 645.0,402.6 658.0,413.5 670.4,423.0 681.3,429.3" fill="none" stroke="#FF3300" stroke-width="1.75" stroke-linejoin="round" stroke-linecap="round"/></g>
<g><rect x="31.70" y="503.40" width="176.80" height="199.80" fill="none" stroke="#CACACA" stroke-width="1.25"/><text x="24.40" y="705.95" font-size="7.9" fill="#595959" stroke="#595959" stroke-width="0.18" text-anchor="end" textLength="4.0" lengthAdjust="spacingAndGlyphs">0</text><text x="24.40" y="665.99" font-size="7.9" fill="#595959" stroke="#595959" stroke-width="0.18" text-anchor="end" textLength="10.0" lengthAdjust="spacingAndGlyphs">0.2</text><text x="24.40" y="626.03" font-size="7.9" fill="#595959" stroke="#595959" stroke-width="0.18" text-anchor="end" textLength="10.0" lengthAdjust="spacingAndGlyphs">0.4</text><text x="24.40" y="586.07" font-size="7.9" fill="#595959" stroke="#595959" stroke-width="0.18" text-anchor="end" textLength="10.0" lengthAdjust="spacingAndGlyphs">0.6</text><text x="24.40" y="546.11" font-size="7.9" fill="#595959" stroke="#595959" stroke-width="0.18" text-anchor="end" textLength="10.0" lengthAdjust="spacingAndGlyphs">0.8</text><text x="24.40" y="506.15" font-size="7.9" fill="#595959" stroke="#595959" stroke-width="0.18" text-anchor="end" textLength="4.0" lengthAdjust="spacingAndGlyphs">1</text><text x="31.70" y="716.70" font-size="7.9" fill="#595959" stroke="#595959" stroke-width="0.18" text-anchor="middle" textLength="4.0" lengthAdjust="spacingAndGlyphs">0</text><text x="67.06" y="716.70" font-size="7.9" fill="#595959" stroke="#595959" stroke-width="0.18" text-anchor="middle" textLength="10.0" lengthAdjust="spacingAndGlyphs">0.2</text><text x="102.42" y="716.70" font-size="7.9" fill="#595959" stroke="#595959" stroke-width="0.18" text-anchor="middle" textLength="10.0" lengthAdjust="spacingAndGlyphs">0.4</text><text x="137.78" y="716.70" font-size="7.9" fill="#595959" stroke="#595959" stroke-width="0.18" text-anchor="middle" textLength="10.0" lengthAdjust="spacingAndGlyphs">0.6</text><text x="173.14" y="716.70" font-size="7.9" fill="#595959" stroke="#595959" stroke-width="0.18" text-anchor="middle" textLength="10.0" lengthAdjust="spacingAndGlyphs">0.8</text><text x="208.50" y="716.70" font-size="7.9" fill="#595959" stroke="#595959" stroke-width="0.18" text-anchor="middle" textLength="4.0" lengthAdjust="spacingAndGlyphs">1</text><text x="75.20" y="732.70" font-size="10.5" font-weight="bold" fill="#595959" stroke="#595959" stroke-width="0.12" letter-spacing="0.18">Frequency (mm<tspan font-size="7" dy="-4">-1</tspan><tspan dy="4">)</tspan></text><text transform="translate(9.30,604.10) rotate(-90)" x="0" y="0" font-size="11.6" font-weight="bold" fill="#595959" stroke="#595959" stroke-width="0.15" text-anchor="middle" textLength="81.4" lengthAdjust="spacingAndGlyphs">TTF polystyrene</text><text x="139.60" y="524.80" font-size="15.3" font-weight="bold" fill="#595959" stroke="#595959" stroke-width="0.45" textLength="59.6" lengthAdjust="spacingAndGlyphs">8.8 mGy</text><line x1="39.90" y1="644.80" x2="56.90" y2="644.80" stroke="#5B9BD5" stroke-width="1.6"/><text x="62.40" y="646.70" font-size="9.5" font-weight="bold" fill="#595959" stroke="#595959" stroke-width="0.35" textLength="14.6" lengthAdjust="spacingAndGlyphs">HIR</text><line x1="39.90" y1="658.30" x2="56.90" y2="658.30" stroke="#FFC000" stroke-width="1.6"/><text x="62.40" y="660.20" font-size="9.5" font-weight="bold" fill="#595959" stroke="#595959" stroke-width="0.35" textLength="23.4" lengthAdjust="spacingAndGlyphs">MBIR</text><line x1="39.90" y1="673.00" x2="56.90" y2="673.00" stroke="#70AD47" stroke-width="1.6"/><text x="62.40" y="674.90" font-size="9.5" font-weight="bold" fill="#595959" stroke="#595959" stroke-width="0.35" textLength="32.5" lengthAdjust="spacingAndGlyphs">NR-DLR</text><line x1="39.90" y1="686.40" x2="56.90" y2="686.40" stroke="#FF3300" stroke-width="1.6"/><text x="62.40" y="688.30" font-size="9.5" font-weight="bold" fill="#595959" stroke="#595959" stroke-width="0.35" textLength="30.7" lengthAdjust="spacingAndGlyphs">SR-DLR</text><polyline points="31.7,503.6 44.6,513.9 57.7,533.6 70.9,552.6 84.0,579.6 97.0,610.1 110.1,630.5 123.1,651.8 137.0,673.7 150.1,683.9 162.6,687.3 175.7,688.3 188.8,692.7 202.0,699.3 208.5,700.7" fill="none" stroke="#70AD47" stroke-width="1.75" stroke-linejoin="round" stroke-linecap="round"/><polyline points="31.7,503.6 44.6,513.9 57.7,534.3 70.9,553.3 84.0,581.0 97.0,618.2 109.6,639.0 122.8,659.5 137.0,680.3 150.1,688.3 162.6,690.5 175.7,691.7 188.8,695.6 202.0,700.4 208.5,701.2" fill="none" stroke="#5B9BD5" stroke-width="1.75" stroke-linejoin="round" stroke-linecap="round"/><polyline points="31.7,503.6 44.6,511.7 57.7,522.2 70.9,527.7 84.0,546.0 97.2,571.5 110.9,594.8 124.0,623.0 137.0,651.0 150.1,665.7 162.6,672.3 175.7,676.6 188.8,685.4 202.0,693.4 208.5,695.6" fill="none" stroke="#FFC000" stroke-width="1.75" stroke-linejoin="round" stroke-linecap="round"/><polyline points="31.7,503.6 44.6,512.4 57.7,525.5 70.9,533.6 84.0,554.0 97.5,581.0 110.9,600.0 123.0,621.2 136.7,645.0 150.1,657.7 162.6,666.4 175.7,675.9 188.8,683.9 202.0,690.5 208.5,692.7" fill="none" stroke="#FF3300" stroke-width="1.75" stroke-linejoin="round" stroke-linecap="round"/></g>
<g><rect x="267.60" y="503.40" width="176.60" height="199.80" fill="none" stroke="#CACACA" stroke-width="1.25"/><text x="260.30" y="705.95" font-size="7.9" fill="#595959" stroke="#595959" stroke-width="0.18" text-anchor="end" textLength="4.0" lengthAdjust="spacingAndGlyphs">0</text><text x="260.30" y="665.99" font-size="7.9" fill="#595959" stroke="#595959" stroke-width="0.18" text-anchor="end" textLength="10.0" lengthAdjust="spacingAndGlyphs">0.2</text><text x="260.30" y="626.03" font-size="7.9" fill="#595959" stroke="#595959" stroke-width="0.18" text-anchor="end" textLength="10.0" lengthAdjust="spacingAndGlyphs">0.4</text><text x="260.30" y="586.07" font-size="7.9" fill="#595959" stroke="#595959" stroke-width="0.18" text-anchor="end" textLength="10.0" lengthAdjust="spacingAndGlyphs">0.6</text><text x="260.30" y="546.11" font-size="7.9" fill="#595959" stroke="#595959" stroke-width="0.18" text-anchor="end" textLength="10.0" lengthAdjust="spacingAndGlyphs">0.8</text><text x="260.30" y="506.15" font-size="7.9" fill="#595959" stroke="#595959" stroke-width="0.18" text-anchor="end" textLength="4.0" lengthAdjust="spacingAndGlyphs">1</text><text x="267.60" y="716.70" font-size="7.9" fill="#595959" stroke="#595959" stroke-width="0.18" text-anchor="middle" textLength="4.0" lengthAdjust="spacingAndGlyphs">0</text><text x="302.92" y="716.70" font-size="7.9" fill="#595959" stroke="#595959" stroke-width="0.18" text-anchor="middle" textLength="10.0" lengthAdjust="spacingAndGlyphs">0.2</text><text x="338.24" y="716.70" font-size="7.9" fill="#595959" stroke="#595959" stroke-width="0.18" text-anchor="middle" textLength="10.0" lengthAdjust="spacingAndGlyphs">0.4</text><text x="373.56" y="716.70" font-size="7.9" fill="#595959" stroke="#595959" stroke-width="0.18" text-anchor="middle" textLength="10.0" lengthAdjust="spacingAndGlyphs">0.6</text><text x="408.88" y="716.70" font-size="7.9" fill="#595959" stroke="#595959" stroke-width="0.18" text-anchor="middle" textLength="10.0" lengthAdjust="spacingAndGlyphs">0.8</text><text x="444.20" y="716.70" font-size="7.9" fill="#595959" stroke="#595959" stroke-width="0.18" text-anchor="middle" textLength="4.0" lengthAdjust="spacingAndGlyphs">1</text><text x="311.00" y="732.70" font-size="10.5" font-weight="bold" fill="#595959" stroke="#595959" stroke-width="0.12" letter-spacing="0.18">Frequency (mm<tspan font-size="7" dy="-4">-1</tspan><tspan dy="4">)</tspan></text><text transform="translate(245.20,603.70) rotate(-90)" x="0" y="0" font-size="11.6" font-weight="bold" fill="#595959" stroke="#595959" stroke-width="0.15" text-anchor="middle" textLength="52.6" lengthAdjust="spacingAndGlyphs">TTF Delrin</text><text x="374.60" y="524.80" font-size="15.3" font-weight="bold" fill="#595959" stroke="#595959" stroke-width="0.45" textLength="59.6" lengthAdjust="spacingAndGlyphs">8.8 mGy</text><line x1="277.30" y1="644.80" x2="294.30" y2="644.80" stroke="#5B9BD5" stroke-width="1.6"/><text x="299.80" y="646.70" font-size="9.5" font-weight="bold" fill="#595959" stroke="#595959" stroke-width="0.35" textLength="14.6" lengthAdjust="spacingAndGlyphs">HIR</text><line x1="277.30" y1="658.30" x2="294.30" y2="658.30" stroke="#FFC000" stroke-width="1.6"/><text x="299.80" y="660.20" font-size="9.5" font-weight="bold" fill="#595959" stroke="#595959" stroke-width="0.35" textLength="23.4" lengthAdjust="spacingAndGlyphs">MBIR</text><line x1="277.30" y1="673.00" x2="294.30" y2="673.00" stroke="#70AD47" stroke-width="1.6"/><text x="299.80" y="674.90" font-size="9.5" font-weight="bold" fill="#595959" stroke="#595959" stroke-width="0.35" textLength="32.5" lengthAdjust="spacingAndGlyphs">NR-DLR</text><line x1="277.30" y1="686.40" x2="294.30" y2="686.40" stroke="#FF3300" stroke-width="1.6"/><text x="299.80" y="688.30" font-size="9.5" font-weight="bold" fill="#595959" stroke="#595959" stroke-width="0.35" textLength="30.7" lengthAdjust="spacingAndGlyphs">SR-DLR</text><polyline points="267.6,503.6 280.6,508.8 294.5,528.5 320.0,581.8 331.9,608.2 346.5,633.7 359.6,652.0 372.6,667.2 385.0,678.1 398.2,686.9 411.3,692.7 424.5,695.6 437.6,696.6 444.2,696.6" fill="none" stroke="#70AD47" stroke-width="1.75" stroke-linejoin="round" stroke-linecap="round"/><polyline points="267.6,503.6 280.6,505.8 294.5,521.2 306.9,544.5 320.0,570.1 333.4,598.7 346.5,622.0 359.6,640.0 372.6,656.2 385.0,667.2 398.2,676.6 411.3,683.2 424.5,687.6 437.6,690.5 444.2,691.4" fill="none" stroke="#5B9BD5" stroke-width="1.75" stroke-linejoin="round" stroke-linecap="round"/><polyline points="267.6,503.6 280.6,504.4 294.5,513.1 320.0,538.0 333.2,559.1 346.5,581.5 360.0,603.5 372.3,623.5 385.4,640.6 398.9,656.5 411.3,667.9 424.5,677.4 437.6,685.4 444.2,688.6" fill="none" stroke="#FFC000" stroke-width="1.75" stroke-linejoin="round" stroke-linecap="round"/><polyline points="267.6,503.6 280.6,505.1 294.5,515.3 320.0,546.7 333.2,566.4 346.5,586.0 359.6,602.3 372.3,620.5 385.4,635.0 398.9,650.4 411.3,661.3 424.5,671.5 437.6,679.6 444.2,682.3" fill="none" stroke="#FF3300" stroke-width="1.75" stroke-linejoin="round" stroke-linecap="round"/></g>
<g><rect x="505.50" y="503.40" width="176.70" height="199.80" fill="none" stroke="#CACACA" stroke-width="1.25"/><text x="498.20" y="705.95" font-size="7.9" fill="#595959" stroke="#595959" stroke-width="0.18" text-anchor="end" textLength="4.0" lengthAdjust="spacingAndGlyphs">0</text><text x="498.20" y="665.99" font-size="7.9" fill="#595959" stroke="#595959" stroke-width="0.18" text-anchor="end" textLength="10.0" lengthAdjust="spacingAndGlyphs">0.2</text><text x="498.20" y="626.03" font-size="7.9" fill="#595959" stroke="#595959" stroke-width="0.18" text-anchor="end" textLength="10.0" lengthAdjust="spacingAndGlyphs">0.4</text><text x="498.20" y="586.07" font-size="7.9" fill="#595959" stroke="#595959" stroke-width="0.18" text-anchor="end" textLength="10.0" lengthAdjust="spacingAndGlyphs">0.6</text><text x="498.20" y="546.11" font-size="7.9" fill="#595959" stroke="#595959" stroke-width="0.18" text-anchor="end" textLength="10.0" lengthAdjust="spacingAndGlyphs">0.8</text><text x="498.20" y="506.15" font-size="7.9" fill="#595959" stroke="#595959" stroke-width="0.18" text-anchor="end" textLength="4.0" lengthAdjust="spacingAndGlyphs">1</text><text x="505.50" y="716.70" font-size="7.9" fill="#595959" stroke="#595959" stroke-width="0.18" text-anchor="middle" textLength="4.0" lengthAdjust="spacingAndGlyphs">0</text><text x="540.84" y="716.70" font-size="7.9" fill="#595959" stroke="#595959" stroke-width="0.18" text-anchor="middle" textLength="10.0" lengthAdjust="spacingAndGlyphs">0.2</text><text x="576.18" y="716.70" font-size="7.9" fill="#595959" stroke="#595959" stroke-width="0.18" text-anchor="middle" textLength="10.0" lengthAdjust="spacingAndGlyphs">0.4</text><text x="611.52" y="716.70" font-size="7.9" fill="#595959" stroke="#595959" stroke-width="0.18" text-anchor="middle" textLength="10.0" lengthAdjust="spacingAndGlyphs">0.6</text><text x="646.86" y="716.70" font-size="7.9" fill="#595959" stroke="#595959" stroke-width="0.18" text-anchor="middle" textLength="10.0" lengthAdjust="spacingAndGlyphs">0.8</text><text x="682.20" y="716.70" font-size="7.9" fill="#595959" stroke="#595959" stroke-width="0.18" text-anchor="middle" textLength="4.0" lengthAdjust="spacingAndGlyphs">1</text><text x="548.95" y="732.70" font-size="10.5" font-weight="bold" fill="#595959" stroke="#595959" stroke-width="0.12" letter-spacing="0.18">Frequency (mm<tspan font-size="7" dy="-4">-1</tspan><tspan dy="4">)</tspan></text><text transform="translate(483.10,603.70) rotate(-90)" x="0" y="0" font-size="11.6" font-weight="bold" fill="#595959" stroke="#595959" stroke-width="0.15" text-anchor="middle" textLength="69.4" lengthAdjust="spacingAndGlyphs">TTF Bone50%</text><text x="612.60" y="524.80" font-size="15.3" font-weight="bold" fill="#595959" stroke="#595959" stroke-width="0.45" textLength="59.6" lengthAdjust="spacingAndGlyphs">8.8 mGy</text><line x1="515.10" y1="644.80" x2="532.10" y2="644.80" stroke="#5B9BD5" stroke-width="1.6"/><text x="537.60" y="646.70" font-size="9.5" font-weight="bold" fill="#595959" stroke="#595959" stroke-width="0.35" textLength="14.6" lengthAdjust="spacingAndGlyphs">HIR</text><line x1="515.10" y1="658.30" x2="532.10" y2="658.30" stroke="#FFC000" stroke-width="1.6"/><text x="537.60" y="660.20" font-size="9.5" font-weight="bold" fill="#595959" stroke="#595959" stroke-width="0.35" textLength="23.4" lengthAdjust="spacingAndGlyphs">MBIR</text><line x1="515.10" y1="673.00" x2="532.10" y2="673.00" stroke="#70AD47" stroke-width="1.6"/><text x="537.60" y="674.90" font-size="9.5" font-weight="bold" fill="#595959" stroke="#595959" stroke-width="0.35" textLength="32.5" lengthAdjust="spacingAndGlyphs">NR-DLR</text><line x1="515.10" y1="686.40" x2="532.10" y2="686.40" stroke="#FF3300" stroke-width="1.6"/><text x="537.60" y="688.30" font-size="9.5" font-weight="bold" fill="#595959" stroke="#595959" stroke-width="0.35" textLength="30.7" lengthAdjust="spacingAndGlyphs">SR-DLR</text><polyline points="505.5,503.6 518.6,507.3 531.0,523.5 543.4,546.5 556.6,574.5 569.0,599.5 582.2,628.0 595.2,648.2 607.6,664.2 620.0,676.6 632.4,686.9 644.9,693.4 658.0,697.5 670.4,699.3 682.2,699.7" fill="none" stroke="#70AD47" stroke-width="1.75" stroke-linejoin="round" stroke-linecap="round"/><polyline points="505.5,503.6 518.6,505.1 531.0,513.9 543.4,528.5 556.6,546.0 569.7,565.7 582.5,585.5 595.0,604.6 607.7,620.5 620.5,636.0 632.4,651.1 644.9,662.0 658.0,671.5 670.4,678.1 682.2,683.4" fill="none" stroke="#5B9BD5" stroke-width="1.75" stroke-linejoin="round" stroke-linecap="round"/><polyline points="505.5,503.6 518.6,504.4 531.0,514.6 543.4,526.3 556.6,540.1 569.7,559.9 582.5,579.5 595.0,600.3 607.7,620.0 620.5,637.5 632.4,655.5 644.9,670.1 658.0,681.0 670.4,687.6 682.2,693.3" fill="none" stroke="#FFC000" stroke-width="1.75" stroke-linejoin="round" stroke-linecap="round"/><polyline points="505.5,503.6 518.6,503.6 531.0,510.5 543.4,523.4 556.6,538.7 569.7,558.4 582.8,577.0 595.5,595.5 608.2,613.3 620.8,629.0 633.0,643.0 645.0,654.6 658.0,665.0 670.4,673.0 682.2,680.2" fill="none" stroke="#FF3300" stroke-width="1.75" stroke-linejoin="round" stroke-linecap="round"/></g>
</svg></body></html>
